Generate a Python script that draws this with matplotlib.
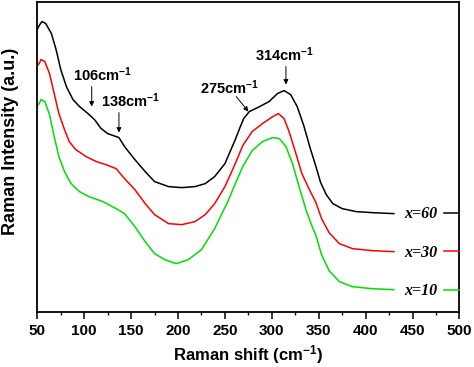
import matplotlib
matplotlib.use("Agg")
import matplotlib.pyplot as plt
from matplotlib.ticker import MultipleLocator

plt.rcParams['font.family'] = ['Liberation Sans', 'DejaVu Sans']
plt.rcParams['font.weight'] = 'bold'
plt.rcParams['mathtext.fontset'] = 'custom'
plt.rcParams['mathtext.rm'] = 'Liberation Sans:bold'
plt.rcParams['mathtext.bf'] = 'Liberation Sans:bold'
plt.rcParams['mathtext.default'] = 'bf'

# Raman spectra (intensity in arbitrary units)
x60 = [50, 52, 55, 59, 65, 70, 75, 81, 88, 95, 104, 111, 118, 125, 134, 137, 143, 154, 165,
       175, 190, 204, 218, 229, 239, 250, 261, 266, 270, 276, 287, 297, 306, 313, 320,
       327, 334, 341, 347, 352, 358, 365, 375, 390, 407, 430]
y60 = [282, 286, 290, 288, 278, 262, 242, 225, 212, 205, 198, 192, 183, 178, 175, 174, 165, 152, 140,
       130, 125, 124, 125, 128, 135, 148, 172, 184, 193, 200, 205, 210, 218, 221, 217,
       205, 186, 163, 145, 129, 117, 108, 103, 100, 99, 98]

x30 = [50, 52, 54, 58, 63, 68, 73, 79, 84, 91, 102, 113, 123, 134, 143, 154, 165, 175,
       190, 204, 218, 229, 239, 250, 261, 269, 279, 290, 301, 307, 313, 318, 325, 332,
       340, 347, 353, 361, 372, 386, 407, 430]
y30 = [246, 248, 252, 250, 238, 218, 198, 182, 170, 162, 155, 150, 147, 143, 133, 122, 108, 97,
       88, 87, 90, 97, 108, 125, 148, 166, 180, 188, 195, 198, 193, 181, 160, 138,
       122, 109, 93, 79, 68, 63, 61, 60]

x10 = [50, 52, 54, 58, 63, 68, 73, 79, 86, 95, 105, 120, 134, 143, 154, 165, 175, 186,
       198, 211, 225, 239, 253, 262, 269, 279, 290, 301, 308, 315, 322, 329, 337, 343,
       347, 353, 361, 372, 386, 407, 430]
y10 = [206, 208, 212, 210, 197, 175, 155, 140, 128, 120, 115, 110, 103, 98, 85, 70, 58, 52,
       48, 52, 62, 83, 110, 130, 145, 161, 170, 174, 173, 165, 148, 125, 100, 85,
       76, 57, 41, 30, 25, 23, 22]

series = [(x60, y60, 'black', 'x=60'),
          (x30, y30, '#ff0000', 'x=30'),
          (x10, y10, '#00e000', 'x=10')]

# peak labels: (text, text x, text y, arrow start, arrow tip)
peaks = [('106cm$^{-1}$', 119, 231, (108, 225), (108, 205)),
         ('138cm$^{-1}$', 149, 205, (137, 199), (137, 179)),
         ('275cm$^{-1}$', 255, 218, (262, 215), (275, 200)),
         ('314cm$^{-1}$', 314, 251, (315, 245), (315, 227))]

fig = plt.figure(figsize=(4.74, 3.67), dpi=100)
ax = fig.add_axes([0.0787, 0.1507, 0.8907, 0.8452])

for xs, ys, c, lab in series:
    ax.plot(xs, ys, color=c, lw=1.1, label=lab, solid_joinstyle='round')

for txt, tx, ty, start, tip in peaks:
    ax.text(tx, ty, txt, ha='center', va='baseline', fontsize=10.5, fontweight='bold')
    ax.annotate('', xy=tip, xytext=start,
                arrowprops=dict(arrowstyle='-|>', color='black', lw=0.7,
                                mutation_scale=7, shrinkA=0, shrinkB=0))

ax.set_xlim(50, 500)
ax.set_ylim(0, 310)
ax.xaxis.set_major_locator(MultipleLocator(50))
ax.xaxis.set_minor_locator(MultipleLocator(25))
ax.set_yticks([])
ax.tick_params(axis='x', which='major', direction='out', length=5, width=1.1,
               labelsize=11, pad=4)
ax.tick_params(axis='x', which='minor', direction='out', length=2.5, width=1.0)
for sp in ax.spines.values():
    sp.set_linewidth(1.3)

ax.set_xlabel('Raman shift (cm$^{-1}$)', fontsize=12, fontweight='bold', labelpad=3.5)
ax.set_ylabel('Raman Intensity (a.u.)', fontsize=13, fontweight='bold')
ax.yaxis.set_label_coords(-0.043, 0.55)

leg = ax.legend(loc='center right', bbox_to_anchor=(1.0, 0.19), frameon=False,
                markerfirst=False, handlelength=1.0, handletextpad=0.4,
                labelspacing=1.4, borderpad=0, borderaxespad=0,
                prop={'family': 'Liberation Serif', 'style': 'italic',
                      'weight': 'bold', 'size': 11.5})

fig.savefig('out.png', dpi=100)
